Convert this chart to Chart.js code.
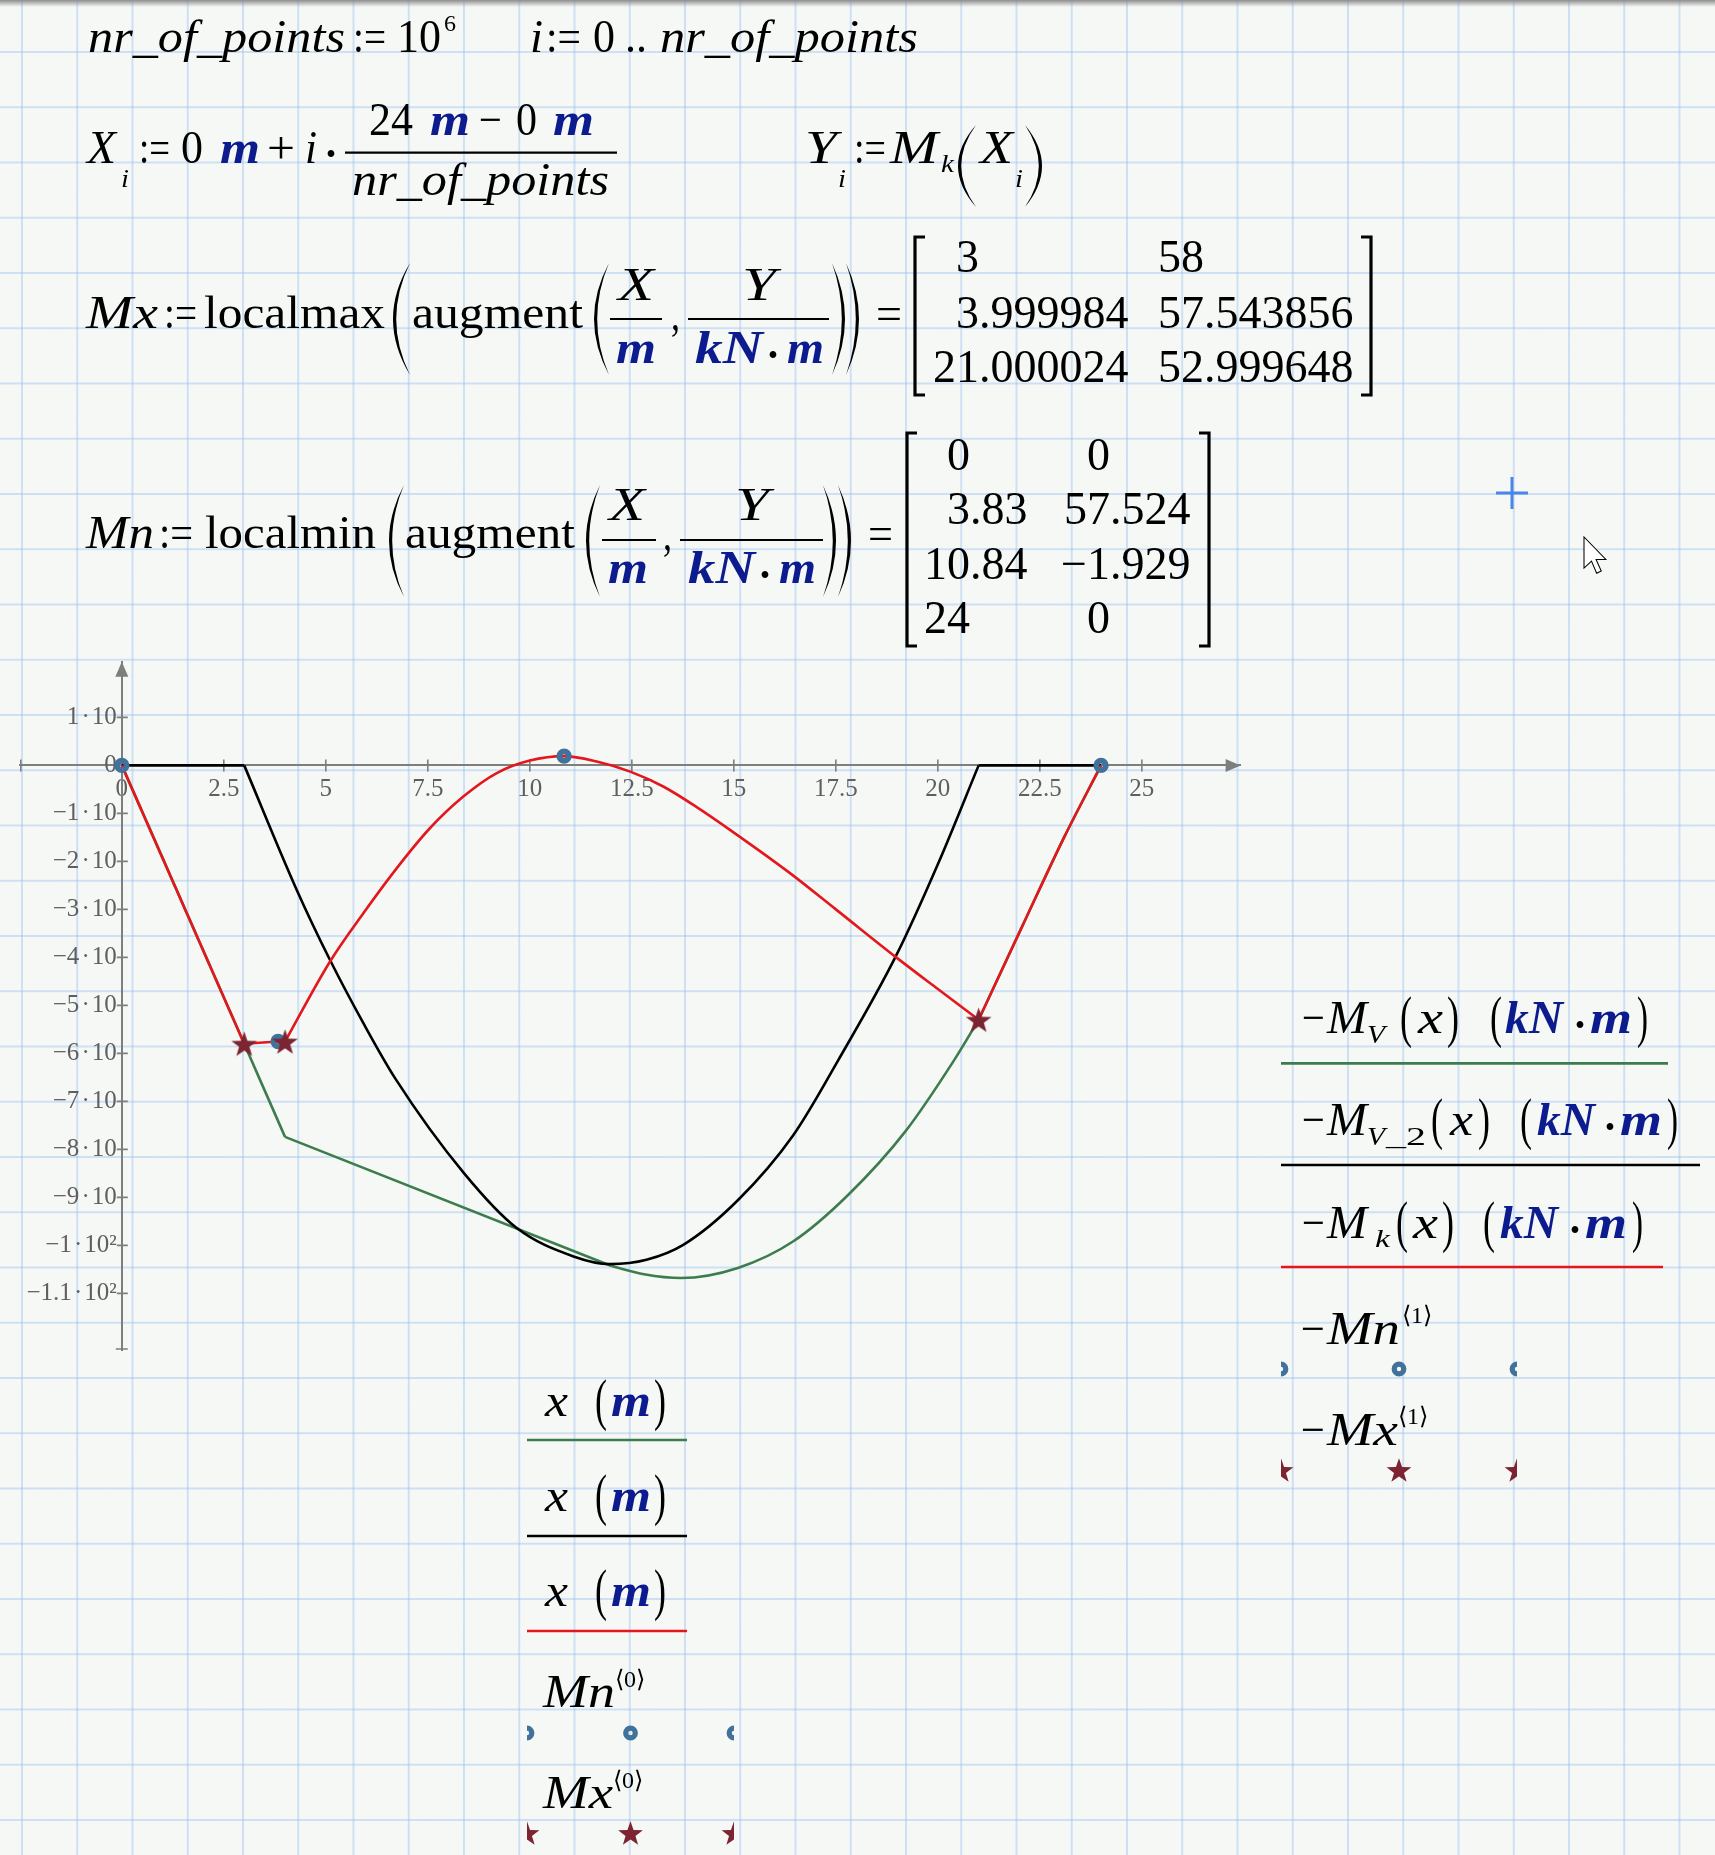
<!DOCTYPE html>
<html>
<head>
<meta charset="utf-8">
<title>Mk influence plot</title>
<script src="https://cdn.jsdelivr.net/npm/chart.js@4.4.1/dist/chart.umd.min.js"></script>
<style>
  html, body { margin: 0; padding: 0; }
  body {
    width: 1715px; height: 1855px; overflow: hidden; position: relative;
    background-color: #f6f8f6;
    background-image:
      linear-gradient(90deg, rgba(150,190,240,.42) 0, rgba(150,190,240,.42) 1.6px, transparent 1.6px),
      linear-gradient(180deg, rgba(150,190,240,.42) 0, rgba(150,190,240,.42) 1.6px, transparent 1.6px);
    background-size: 55.25px 55.25px;
    background-position: 21px 51px;
  }
  #shade { position: absolute; left: 0; top: 0; width: 1715px; height: 7px;
           background: linear-gradient(#8e8e8e, rgba(142,142,142,0)); }
  #plot { position: absolute; left: 0; top: 600px; width: 1300px; height: 800px; }
  #sheet { position: absolute; left: 0; top: 0; pointer-events: none; }
</style>
</head>
<body>
<div id="shade"></div>
<canvas id="plot" width="1300" height="800"></canvas>
<svg id="sheet" width="1715" height="1855" xmlns="http://www.w3.org/2000/svg"></svg>
<script>
const xTickValues = [0, 2.5, 5, 7.5, 10, 12.5, 15, 17.5, 20, 22.5, 25];
const xTickLabels = ["0", "2.5", "5", "7.5", "10", "12.5", "15", "17.5", "20", "22.5", "25"];
const yTickValues = [10, 0, -10, -20, -30, -40, -50, -60, -70, -80, -90, -100, -110];
const yTickLabels = ["1·10", "0", "−1·10", "−2·10", "−3·10", "−4·10", "−5·10", "−6·10",
                     "−7·10", "−8·10", "−9·10", "−1·10²", "−1.1·10²"];

// -M_V(x)  (kN·m)
const mvX = [0, 3, 4, 12, 12.8, 13.7, 15.1, 16.45, 17.8, 19.2, 20.4, 21, 22.07, 23.1, 24];
const mvY = [0, -58, -77.4, -104.3, -106.0, -106.8, -104.7, -99.2, -89.5, -76.3, -61.4, -53, -33.5, -14.9, 0];
const mvCorners = [1, 2, 3, 11];

// -M_V_2(x)  (kN·m)
const mv2X = [0, 3, 4.29, 5.1, 5.92, 6.7, 8.39, 9.68, 11.07, 11.97, 12.86, 13.76, 15.11, 16.46, 17.56, 18.98, 20, 21, 24];
const mv2Y = [0, 0, -26.0, -40.5, -53.7, -65.2, -85, -96.4, -102.3, -103.9, -103, -99.9, -90.5, -77, -61.4, -39.6, -20.6, 0, 0];
const mv2Corners = [1, 17];

// -M_k(x)  (kN·m)
const mkX = [0, 3, 3.83, 4, 5.1, 5.92, 6.74, 7.55, 8.37, 9.19, 10, 10.84, 11.64, 12.46, 13.27, 14.09,
             15, 16.4, 17.5, 18.98, 20, 21, 22.07, 23.1, 24];
const mkY = [0, -58, -57.52, -57.54, -40.9, -30.8, -21.4, -13.1, -6.5, -1.6, 1.0, 1.93, 0.8, -1.3, -4.4, -8.7,
             -14.0, -22.6, -30.0, -40, -46.6, -53, -33.5, -14.9, 0];
const mkCorners = [1, 2, 3, 21];

// localmax / localmin results as printed
const mxCol0 = ["3", "3.999984", "21.000024"];
const mxCol1 = ["58", "57.543856", "52.999648"];
const mnCol0 = ["0", "3.83", "10.84", "24"];
const mnCol1 = ["0", "57.524", "−1.929", "0"];

// ---- colours ----
const C_GREEN = "#3d7d4d", C_RED = "#e3171c", C_BLACK = "#000000";
const C_DOT = "#41729c", C_STAR = "#7c2431";
const AXIS_GRAY = "#7e7e7e", LABEL_GRAY = "#5f5f5f", UNIT_BLUE = "#0c1b8e";
const SERIF = "Liberation Serif, Times New Roman, serif";

function num(s) { return parseFloat(s.replace("−", "-")); }

function pieces(xs, ys, corners) {
    const cuts = [0].concat(corners, [xs.length - 1]);
    const out = [];
    for (let k = 0; k < cuts.length - 1; k++) {
        const seg = [];
        for (let i = cuts[k]; i <= cuts[k + 1]; i++) seg.push({ x: xs[i], y: ys[i] });
        out.push(seg);
    }
    return out;
}

function starPath(g, cx, cy, R) {
    for (let k = 0; k < 10; k++) {
        const rr = k % 2 ? R * 0.4 : R;
        const a = -Math.PI / 2 + k * Math.PI / 5;
        g.lineTo(cx + rr * Math.cos(a), cy + rr * Math.sin(a));
    }
}

function starImage(R, color) {
    const c = document.createElement("canvas");
    const s = Math.ceil(2 * R + 2);
    c.width = s; c.height = s;
    const g = c.getContext("2d");
    g.fillStyle = color;
    g.beginPath();
    starPath(g, s / 2, s / 2 + R * 0.1, R);
    g.closePath();
    g.fill();
    return c;
}

// ---- chart ----
const datasets = [];
function addCurve(xs, ys, corners, color, order) {
    pieces(xs, ys, corners).forEach(seg => {
        datasets.push({
            data: seg, showLine: true, borderColor: color, borderWidth: 2.6,
            pointRadius: 0, cubicInterpolationMode: "monotone", order: order
        });
    });
}
addCurve(mvX, mvY, mvCorners, C_GREEN, 4);
addCurve(mv2X, mv2Y, mv2Corners, C_BLACK, 3);
addCurve(mkX, mkY, mkCorners, C_RED, 2);

datasets.push({
    data: mnCol0.map((v, i) => ({ x: num(v), y: -num(mnCol1[i]) })),
    showLine: false, pointStyle: "circle", pointRadius: 4.8, pointBorderWidth: 5.8,
    pointBorderColor: C_DOT, borderColor: C_DOT, pointBackgroundColor: "rgba(0,0,0,0)", order: 1
});
datasets.push({
    data: mxCol0.map((v, i) => ({ x: num(v), y: -num(mxCol1[i]) })),
    showLine: false, pointStyle: starImage(13.5, C_STAR), pointRadius: 8, order: 0
});

const axisDecor = {
    id: "axisDecor",
    beforeDatasetsDraw(chart) {
        const { ctx, chartArea: a, scales: { x, y } } = chart;
        const x0 = x.getPixelForValue(0), y0 = y.getPixelForValue(0);
        ctx.save();
        ctx.strokeStyle = AXIS_GRAY; ctx.fillStyle = AXIS_GRAY; ctx.lineWidth = 1.6;
        ctx.beginPath();
        x.ticks.forEach(t => {
            if (t.value === 0) return;
            const p = x.getPixelForValue(t.value);
            ctx.moveTo(p, y0 - 6); ctx.lineTo(p, y0 + 6);
        });
        y.ticks.forEach(t => {
            if (t.value === 0) return;
            const p = y.getPixelForValue(t.value);
            ctx.moveTo(x0 - 5, p); ctx.lineTo(x0 + 6, p);
        });
        ctx.moveTo(a.left + 1, y0 - 6); ctx.lineTo(a.left + 1, y0 + 6);
        ctx.moveTo(x0 - 6, a.bottom - 1); ctx.lineTo(x0 + 6, a.bottom - 1);
        ctx.stroke();
        ctx.beginPath();
        ctx.moveTo(a.right, y0); ctx.lineTo(a.right - 15, y0 - 6.5); ctx.lineTo(a.right - 15, y0 + 6.5);
        ctx.closePath(); ctx.fill();
        ctx.beginPath();
        ctx.moveTo(x0, a.top); ctx.lineTo(x0 - 6.5, a.top + 15); ctx.lineTo(x0 + 6.5, a.top + 15);
        ctx.closePath(); ctx.fill();
        ctx.restore();
    }
};

const tickFont = { family: SERIF, size: 25 };
new Chart(document.getElementById("plot").getContext("2d"), {
    type: "scatter",
    data: { datasets: datasets },
    options: {
        responsive: false,
        animation: false,
        events: [],
        layout: { padding: { left: 19.8, top: 61.7, right: 59.4, bottom: 50 } },
        plugins: { legend: { display: false }, tooltip: { enabled: false } },
        scales: {
            x: {
                type: "linear", min: -2.5, max: 27.42, position: { y: 0 },
                grid: { drawOnChartArea: false, drawTicks: false },
                border: { display: true, color: AXIS_GRAY, width: 2 },
                afterBuildTicks: s => { s.ticks = xTickValues.map(v => ({ value: v })); },
                ticks: {
                    autoSkip: false, maxRotation: 0, minRotation: 0, padding: 9,
                    color: LABEL_GRAY, font: tickFont,
                    callback: (v, i) => xTickLabels[i]
                }
            },
            y: {
                type: "linear", min: -121.8, max: 21.6, position: { x: 0 },
                grid: { drawOnChartArea: false, drawTicks: false },
                border: { display: true, color: AXIS_GRAY, width: 2 },
                afterBuildTicks: s => { s.ticks = yTickValues.map(v => ({ value: v })); },
                ticks: {
                    autoSkip: false, padding: 6, color: LABEL_GRAY, font: tickFont,
                    callback: (v, i) => yTickLabels[i].replace("·", "\u200A·\u200A") + "\u2009"
                }
            }
        }
    },
    plugins: [axisDecor]
});

// ---- worksheet math (svg overlay) ----
const NS = "http://www.w3.org/2000/svg";
const svg = document.getElementById("sheet");
function el(tag, attrs, parent) {
    const e = document.createElementNS(NS, tag);
    for (const k in attrs) e.setAttribute(k, attrs[k]);
    (parent || svg).appendChild(e);
    return e;
}
function T(x, y, s, st, size, w) {
    const a = { x: x, y: y, "font-size": size, "font-family": SERIF, fill: "#000" };
    if (st === "i") a["font-style"] = "italic";
    if (st === "u") { a["font-style"] = "italic"; a["font-weight"] = "bold"; a.fill = UNIT_BLUE; }
    if (w) { a.textLength = w; a.lengthAdjust = "spacingAndGlyphs"; }
    const e = el("text", a);
    e.textContent = s;
    return e;
}
function bar(x1, x2, y, color, w) {
    el("line", { x1: x1, x2: x2, y1: y, y2: y, stroke: color || "#000", "stroke-width": w || 2.2 });
}
function paren(xa, xb, y1, y2, right, th) {
    th = th || 3.2;
    const ym = (y1 + y2) / 2;
    const end = right ? xa : xb, belly = right ? xb : xa, dir = right ? -1 : 1;
    const co = 2 * belly - end, ci = 2 * (belly + dir * th) - end;
    el("path", { d: `M${end},${y1} Q${co},${ym} ${end},${y2} Q${ci},${ym} ${end},${y1} Z`, fill: "#000" });
}
function bracket(x, y1, y2, right) {
    const s = right ? -10 : 10;
    el("path", { d: `M${x + s},${y1} H${x} V${y2} H${x + s}`, fill: "none", stroke: "#000", "stroke-width": 3.2 });
}
function textWidth(s, size) {
    const e = T(0, -100, s, "r", size);
    const w = e.getComputedTextLength();
    svg.removeChild(e);
    return w;
}
function matrixColumn(cells, intRight, baselines) {
    cells.forEach((s, i) => {
        const intPart = s.split(".")[0];
        T(intRight - textWidth(intPart, S), baselines[i], s, "r", S);
    });
}

const S = 46, s = 26, P = 56;

// line 1
T(88, 52, "nr_of_points", "i", S, 257);
T(353, 52, ":=", "r", S, 33);
T(397, 52, "10", "r", S, 44);
T(444, 31, "6", "r", 24, 12);
T(530, 52, "i", "i", S, 13);
T(546, 52, ":=", "r", S, 35);
T(593, 52, "0", "r", S, 22);
T(625, 52, "..", "r", S, 22);
T(660, 52, "nr_of_points", "i", S, 258);

// line 2
T(87, 163, "X", "i", S, 29);
T(121, 187, "i", "i", s, 8);
T(139, 163, ":=", "r", S, 31);
T(181, 163, "0", "r", S, 22);
T(220, 163, "m", "u", S, 40);
T(267, 163, "+", "r", S, 28);
T(305, 163, "i", "i", S, 12);
T(326, 164, "•", "r", 30, 10);
T(369, 135, "24", "r", S, 44);
T(430, 135, "m", "u", S, 40);
T(479, 135, "−", "r", S, 23);
T(516, 135, "0", "r", S, 21);
T(553, 135, "m", "u", S, 41);
bar(345, 617, 152.7);
T(352, 195, "nr_of_points", "i", S, 257);
T(805, 163, "Y", "i", S, 32);
T(838, 187, "i", "i", s, 8);
T(854, 163, ":=", "r", S, 32);
T(890, 163, "M", "i", S, 48);
T(941, 172, "k", "i", s, 13);
paren(958, 976, 125, 207, false);
T(980, 163, "X", "i", S, 33);
T(1015, 187, "i", "i", s, 8);
paren(1025, 1042, 125, 207, true);

// line 3 : Mx
T(86, 328, "Mx", "i", S, 72);
T(164, 328, ":=", "r", S, 33);
T(204, 328, "localmax", "r", S, 181);
paren(393, 410, 263, 375, false);
T(412, 328, "augment", "r", S, 171);
paren(594, 609, 263, 375, false);
T(618, 300, "X", "i", S, 36);
bar(610, 662, 319);
T(616, 363, "m", "u", S, 40);
T(671, 330, ",", "r", S, 9);
T(742, 300, "Y", "i", S, 34);
bar(688, 829, 319);
T(695, 363, "kN", "u", S, 68);
T(768, 365, "•", "r", 30, 10);
T(787, 363, "m", "u", S, 37);
paren(832, 845, 263, 375, true);
paren(846, 859, 263, 375, true);
T(876, 329, "=", "r", S, 26);
bracket(915, 237, 395, false);
bracket(1371, 237, 395, true);
matrixColumn(mxCol0, 979, [272, 328, 382]);
matrixColumn(mxCol1, 1204, [272, 328, 382]);

// line 4 : Mn
T(86, 548, "Mn", "i", S, 68);
T(159, 548, ":=", "r", S, 34);
T(205, 548, "localmin", "r", S, 171);
paren(389, 404, 485, 597, false);
T(405, 548, "augment", "r", S, 170);
paren(586, 600, 485, 597, false);
T(609, 520, "X", "i", S, 36);
bar(602, 656, 540);
T(608, 583, "m", "u", S, 40);
T(663, 550, ",", "r", S, 9);
T(735, 520, "Y", "i", S, 34);
bar(680, 823, 540);
T(688, 583, "kN", "u", S, 67);
T(760, 585, "•", "r", 30, 10);
T(779, 583, "m", "u", S, 37);
paren(823, 836, 485, 597, true);
paren(838, 851, 485, 597, true);
T(868, 549, "=", "r", S, 25);
bracket(907, 433, 646, false);
bracket(1209, 433, 646, true);
matrixColumn(mnCol0, 970, [470, 524, 579, 633]);
matrixColumn(mnCol1, 1110, [470, 524, 579, 633]);

// right axis legend
function unitTail(b, open, kn, dot, m, close) {
    T(open, b + 3, "(", "r", P, 12);
    T(kn, b, "kN", "u", S, 58);
    T(dot, b + 2, "•", "r", 30, 10);
    T(m, b, "m", "u", S, 42);
    T(close, b + 3, ")", "r", P, 11);
}
T(1302, 1033, "−", "r", S, 23); T(1327, 1033, "M", "i", S, 40); T(1367, 1043, "V", "i", s, 18);
T(1400, 1036, "(", "r", P, 12); T(1418, 1033, "x", "i", S, 25); T(1447, 1036, ")", "r", P, 12);
unitTail(1033, 1490, 1505, 1575, 1590, 1637);
bar(1281, 1668, 1063.3, C_GREEN, 2.7);

T(1302, 1135, "−", "r", S, 23); T(1327, 1135, "M", "i", S, 40); T(1367, 1145, "V", "i", s, 18);
T(1386, 1145, "_2", "r", s, 40);
T(1431, 1138, "(", "r", P, 12); T(1450, 1135, "x", "i", S, 23); T(1478, 1138, ")", "r", P, 12);
unitTail(1135, 1520, 1537, 1605, 1620, 1667);
bar(1281, 1700, 1165, C_BLACK, 2.7);

T(1302, 1238, "−", "r", S, 23); T(1327, 1238, "M", "i", S, 40); T(1375, 1247, "k", "i", s, 15);
T(1396, 1241, "(", "r", P, 12); T(1413, 1238, "x", "i", S, 25); T(1442, 1241, ")", "r", P, 12);
unitTail(1238, 1483, 1500, 1570, 1585, 1632);
bar(1281, 1663, 1267, C_RED, 2.7);

T(1301, 1344, "−", "r", S, 24); T(1327, 1344, "Mn", "i", S, 73); T(1402, 1323, "⟨1⟩", "r", 24, 30);
T(1301, 1445, "−", "r", S, 24); T(1327, 1445, "Mx", "i", S, 71); T(1398, 1424, "⟨1⟩", "r", 24, 30);

// bottom axis legend
[[1416, C_GREEN, 1440], [1511, C_BLACK, 1536], [1606, C_RED, 1631]].forEach(r => {
    T(545, r[0], "x", "i", S, 23);
    T(595, r[0] + 3, "(", "r", P, 12);
    T(611, r[0], "m", "u", S, 40);
    T(654, r[0] + 3, ")", "r", P, 12);
    bar(527, 687, r[2], r[1], 2.7);
});
T(543, 1707, "Mn", "i", S, 72); T(615, 1687, "⟨0⟩", "r", 24, 30);
T(543, 1808, "Mx", "i", S, 70); T(613, 1788, "⟨0⟩", "r", 24, 30);

// legend marker samples
let clipId = 0;
function sampleRow(x1, x2, y, kind) {
    const id = "clip" + (clipId++);
    const cp = el("clipPath", { id: id });
    el("rect", { x: x1, y: y - 20, width: x2 - x1, height: 40 }, cp);
    const g = el("g", { "clip-path": `url(#${id})` });
    [x1, (x1 + x2) / 2, x2].forEach(cx => {
        if (kind === "dot") {
            el("circle", { cx: cx, cy: y, r: 4.8, fill: "none", stroke: C_DOT, "stroke-width": 5.2 }, g);
        } else {
            const pts = [];
            for (let k = 0; k < 10; k++) {
                const rr = k % 2 ? 13 * 0.4 : 13;
                const a = -Math.PI / 2 + k * Math.PI / 5;
                pts.push((cx + rr * Math.cos(a)).toFixed(2) + "," + (y + 1.3 + rr * Math.sin(a)).toFixed(2));
            }
            el("polygon", { points: pts.join(" "), fill: C_STAR }, g);
        }
    });
}
sampleRow(1281, 1517, 1369, "dot");
sampleRow(1281, 1517, 1470, "star");
sampleRow(527, 734, 1733, "dot");
sampleRow(527, 734, 1833, "star");

// placement cross and mouse pointer
el("path", { d: "M1496,493 H1528 M1512,477 V509", stroke: "#4a86e8", "stroke-width": 3, fill: "none" });
el("path", {
    d: "M0,0 L0,27 L6.5,21 L11,31.5 L15,29.5 L10.5,19.5 L19,19.5 Z",
    transform: "translate(1584,537) scale(1.15)", fill: "#fff", stroke: "#000", "stroke-width": 0.9
});
</script>
</body>
</html>
